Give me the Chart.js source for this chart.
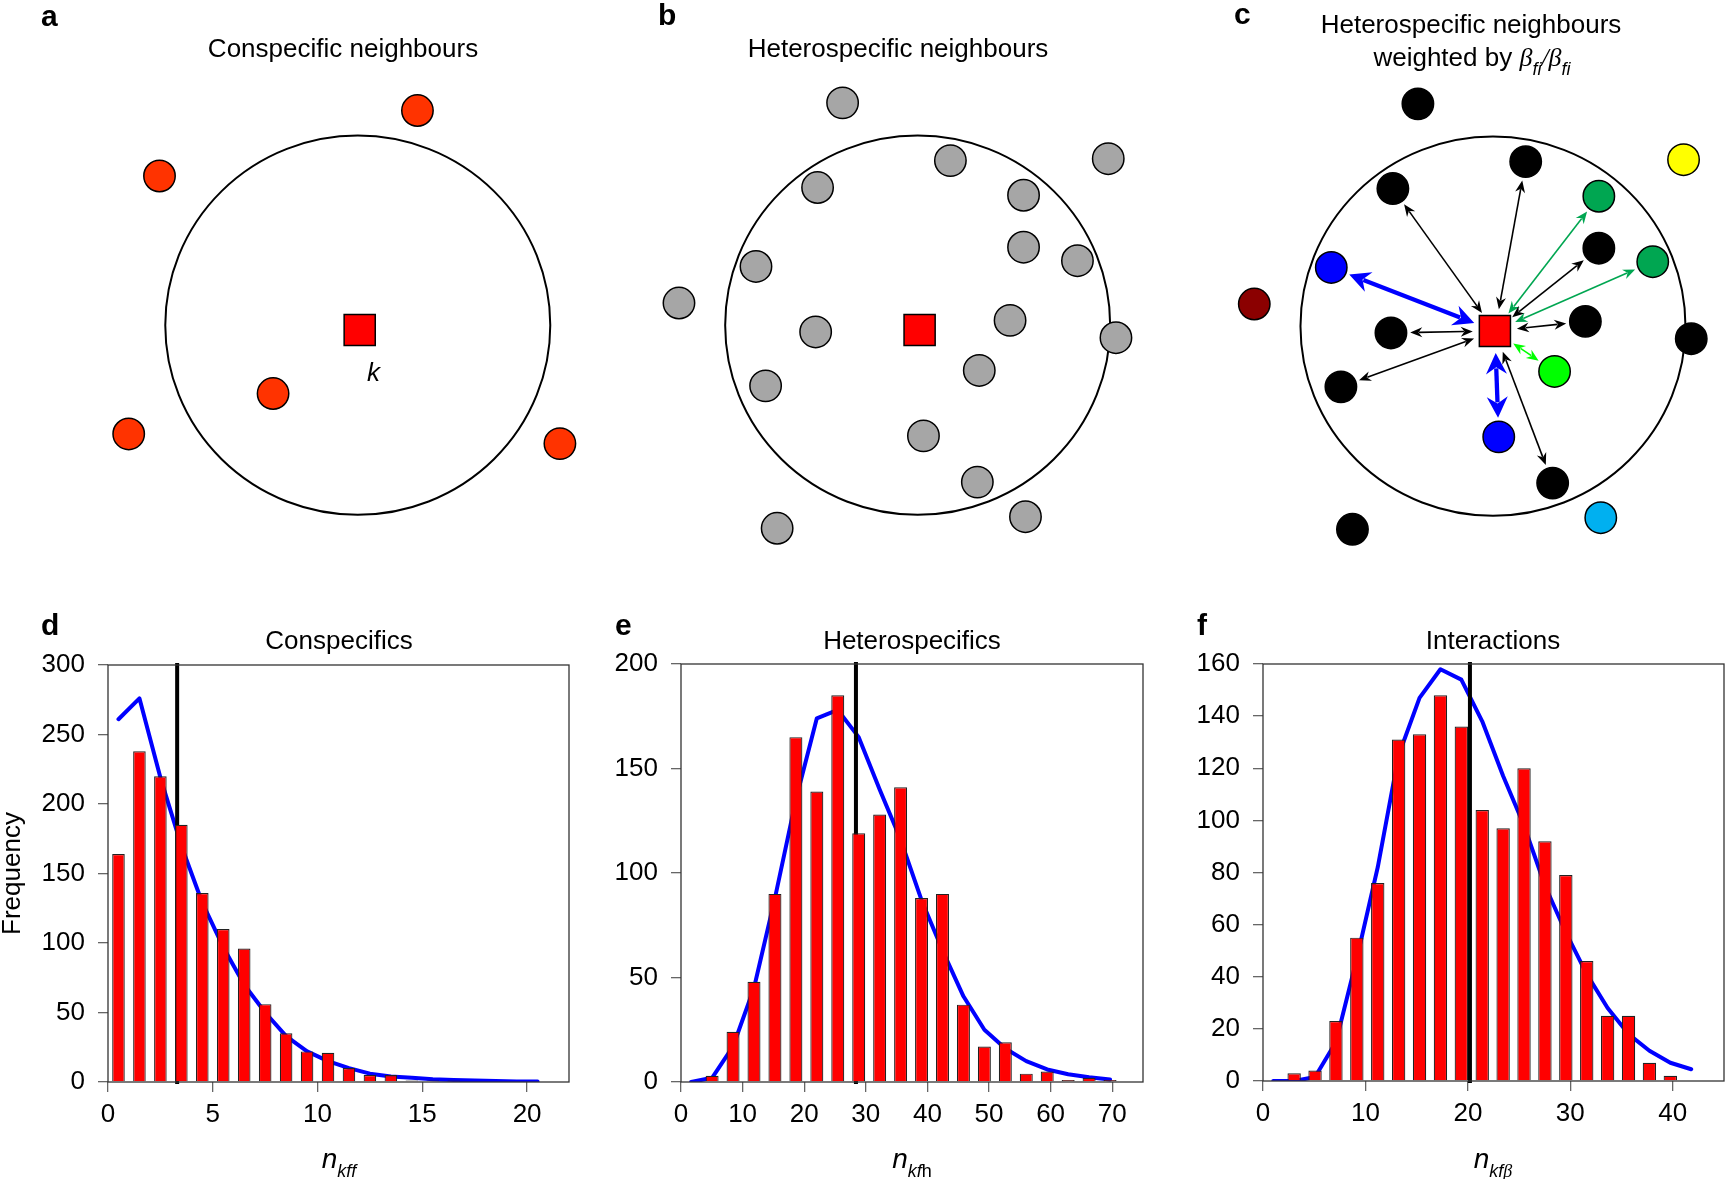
<!DOCTYPE html>
<html lang="en">
<head>
<meta charset="UTF-8">
<title>Neighbourhood crowding</title>
<script src="https://cdn.jsdelivr.net/npm/chart.js"></script>
<style>
  body { margin: 0; background: #fff; width: 1725px; height: 1179px; position: relative; overflow: hidden;
         font-family: "Liberation Sans", Arial, Helvetica, sans-serif; color: #000;
         font-variant-ligatures: none; }
  canvas { position: absolute; }
  .t { position: absolute; white-space: nowrap; line-height: 1; font-size: 26px; }
  .c { transform: translateX(-50%); }
  .lab { font-weight: bold; font-size: 30px; font-family: "Liberation Sans Narrow", "Liberation Sans", sans-serif; }
  .ax { font-size: 28px; }
  .ax i, .it { font-style: italic; }
  sub { font-size: 18px; vertical-align: -9px; line-height: 0; }
  .greek { font-family: "Liberation Serif", "DejaVu Serif", serif; font-style: italic; }
</style>
</head>
<body>
<canvas id="panelA" width="600" height="560" style="left:0;top:0"></canvas>
<canvas id="panelB" width="575" height="560" style="left:575px;top:0"></canvas>
<canvas id="panelC" width="575" height="560" style="left:1150px;top:0"></canvas>
<canvas id="panelD" width="600" height="579" style="left:0;top:600px"></canvas>
<canvas id="panelE" width="580" height="579" style="left:580px;top:600px"></canvas>
<canvas id="panelF" width="565" height="579" style="left:1160px;top:600px"></canvas>

<div class="t lab" style="left:41px;top:1px">a</div>
<div class="t lab" style="left:658px;top:0">b</div>
<div class="t lab" style="left:1234px;top:-1px">c</div>
<div class="t lab" style="left:41px;top:610px">d</div>
<div class="t lab" style="left:615px;top:610px">e</div>
<div class="t lab" style="left:1197px;top:610px">f</div>

<div class="t c" style="left:343px;top:35px">Conspecific neighbours</div>
<div class="t c" style="left:898px;top:35px">Heterospecific neighbours</div>
<div class="t c" style="left:1471px;top:11px">Heterospecific neighbours</div>
<div class="t c" style="left:1472px;top:44px">weighted by <span class="greek">β</span><sub><i>fi</i></sub><span class="greek">/β</span><sub><i>fi</i></sub></div>
<div class="t it" style="left:367px;top:359px">k</div>

<div class="t c" style="left:339px;top:627px">Conspecifics</div>
<div class="t c" style="left:912px;top:627px">Heterospecifics</div>
<div class="t c" style="left:1493px;top:627px">Interactions</div>

<div class="t c ax" style="left:339px;top:1145px"><i>n</i><sub><i>kff</i></sub></div>
<div class="t c ax" style="left:912px;top:1145px"><i>n</i><sub><i>kf</i>h</sub></div>
<div class="t c ax" style="left:1493px;top:1145px"><i>n</i><sub><i>kf</i><span class="greek">β</span></sub></div>

<script>
// ---------- panels a-c: neighbours of focal tree k, in units of the neighbourhood radius ----------
const conspecificXY = [[0.30, 1.14], [-1.04, 0.80], [-0.45, -0.33], [-1.20, -0.54], [1.04, -0.59]];
const heterospecificXY = [
  [-0.40, 1.18], [0.16, 0.88], [0.98, 0.89], [-0.53, 0.74], [0.54, 0.70], [0.54, 0.43],
  [0.82, 0.36], [-0.85, 0.33], [-1.25, 0.14], [-0.54, -0.01], [0.47, 0.05], [1.02, -0.04],
  [-0.80, -0.29], [0.31, -0.21], [0.02, -0.55], [0.30, -0.79], [0.55, -0.97], [-0.74, -1.03]
];
// species of each heterospecific neighbour (panel c)
const heterospecificSpecies = ['A', 'A', 'Y', 'A', 'G', 'A', 'G', 'B', 'R', 'A', 'A', 'A', 'A', 'L', 'B', 'A', 'C', 'A'];
// neighbours inside the radius linked to k by an interaction arrow
const interactingNeighbours = [3, 1, 4, 5, 6, 10, 13, 7, 9, 12, 14, 15];
const neighbourhood = { x: -0.01, y: 0.025, rx: 1.0, ry: 0.985 };

// ---------- panels d-f: histograms ----------
const consBins = [0.5, 1.5, 2.5, 3.5, 4.5, 5.5, 6.5, 7.5, 8.5, 9.5, 10.5, 11.5, 12.5, 13.5, 14.5, 15.5, 16.5, 17.5, 18.5, 19.5, 20.5];
const consObserved = [164, 238, 220, 185, 136, 110, 96, 56, 35, 22, 21, 10, 5, 5, 1, 1, 1, null, null, null, null];
const consExpected = [261, 276, 219, 170, 129, 97, 70, 50, 33, 22, 15, 10, 6, 4, 3, 2, 1.5, 1, 0.7, 0.4, 0.3];
const consMean = 3.3;
const consXTicks = [0, 5, 10, 15, 20];
const consYTicks = [0, 50, 100, 150, 200, 250, 300];

const heteroBins = [1.65, 5.05, 8.45, 11.85, 15.25, 18.65, 22.05, 25.45, 28.85, 32.25, 35.65, 39.05, 42.45, 45.85, 49.25, 52.65, 56.05, 59.45, 62.85, 66.25, 69.65];
const heteroObserved = [null, 3, 24, 48, 90, 165, 139, 185, 119, 128, 141, 88, 90, 37, 17, 19, 4, 5, 1, 2, 1];
const heteroExpected = [0, 2, 17, 45, 88, 135, 174, 178, 165, 140, 116, 87, 63, 41, 25, 16, 10, 6, 3.7, 2.3, 1.2];
const heteroMean = 28.4;
const heteroXTicks = [0, 10, 20, 30, 40, 50, 60, 70];
const heteroYTicks = [0, 50, 100, 150, 200];

const interBins = [1.00, 3.04, 5.08, 7.12, 9.16, 11.20, 13.24, 15.28, 17.32, 19.36, 21.40, 23.44, 25.48, 27.52, 29.56, 31.60, 33.64, 35.68, 37.72, 39.76, 41.80];
const interObserved = [null, 3, 4, 23, 55, 76, 131, 133, 148, 136, 104, 97, 120, 92, 79, 46, 25, 25, 7, 2, null];
const interExpected = [0, 0, 1.5, 15, 47, 82, 125, 147, 158, 154, 138, 117, 98, 75, 57, 41, 28, 18, 11.6, 7, 4.5];
const interMean = 20.2;
const interXTicks = [0, 10, 20, 30, 40];
const interYTicks = [0, 20, 40, 60, 80, 100, 120, 140, 160];

// ---------- styles ----------
Chart.defaults.font.family = '"Liberation Sans", Arial, Helvetica, sans-serif';
Chart.defaults.color = '#000';

const speciesColour = { A: '#000000', Y: '#ffff00', G: '#00a651', B: '#0000ff', R: '#8b0000', L: '#00ff00', C: '#00b0f0' };
const PX_PER_RADIUS = 192.5;

const ringPlugin = {
  id: 'ring',
  beforeDatasetsDraw(chart) {
    const { ctx, scales: { x, y } } = chart;
    const cx = x.getPixelForValue(neighbourhood.x), cy = y.getPixelForValue(neighbourhood.y);
    const rx = Math.abs(x.getPixelForValue(neighbourhood.x + neighbourhood.rx) - cx);
    const ry = Math.abs(y.getPixelForValue(neighbourhood.y + neighbourhood.ry) - cy);
    ctx.save();
    ctx.beginPath();
    ctx.ellipse(cx, cy, rx, ry, 0, 0, Math.PI * 2);
    ctx.lineWidth = 2;
    ctx.strokeStyle = '#000';
    ctx.stroke();
    ctx.restore();
  }
};

function arrowHead(ctx, tx, ty, ux, uy, len, wid) {
  const nx = -uy, ny = ux;
  ctx.beginPath();
  ctx.moveTo(tx, ty);
  ctx.lineTo(tx - ux * len * 1.1 + nx * wid / 2, ty - uy * len * 1.1 + ny * wid / 2);
  ctx.lineTo(tx - ux * len * 0.75, ty - uy * len * 0.75);
  ctx.lineTo(tx - ux * len * 1.1 - nx * wid / 2, ty - uy * len * 1.1 - ny * wid / 2);
  ctx.closePath();
  ctx.fill();
}

const arrowPlugin = {
  id: 'arrows',
  beforeDatasetsDraw(chart) {
    const { ctx, scales: { x, y } } = chart;
    const unit = x.getPixelForValue(1) - x.getPixelForValue(0);
    const x0 = x.getPixelForValue(0), y0 = y.getPixelForValue(0);
    ctx.save();
    interactingNeighbours.forEach(i => {
      const sp = heterospecificSpecies[i];
      const strong = sp === 'B';
      const x1 = x.getPixelForValue(heterospecificXY[i][0]), y1 = y.getPixelForValue(heterospecificXY[i][1]);
      const d = Math.hypot(x1 - x0, y1 - y0);
      const ux = (x1 - x0) / d, uy = (y1 - y0) / d;
      const g0 = 0.115 * unit, g1 = 0.1 * unit;
      const sx = x0 + ux * g0, sy = y0 + uy * g0;
      const ex = x1 - ux * g1, ey = y1 - uy * g1;
      const len = strong ? 19 : 11, wid = strong ? 21 : 10;
      ctx.strokeStyle = ctx.fillStyle = speciesColour[sp];
      ctx.lineWidth = strong ? 4.3 : 1.6;
      ctx.beginPath();
      ctx.moveTo(sx + ux * len * 0.8, sy + uy * len * 0.8);
      ctx.lineTo(ex - ux * len * 0.8, ey - uy * len * 0.8);
      ctx.stroke();
      arrowHead(ctx, ex, ey, ux, uy, len, wid);
      arrowHead(ctx, sx, sy, -ux, -uy, len, wid);
    });
    ctx.restore();
  }
};

function focalTree() {
  return { data: [{ x: 0, y: 0 }], pointStyle: 'rect', pointRadius: 22, backgroundColor: '#ff0000',
           borderColor: '#000', borderWidth: 1.5, clip: false };
}

function neighbourChart(id, focusPx, datasets, plugins) {
  const cv = document.getElementById(id);
  return new Chart(cv, {
    type: 'scatter',
    data: { datasets },
    options: {
      responsive: false, animation: false, events: [],
      layout: { padding: 0, autoPadding: false },
      plugins: { legend: { display: false }, tooltip: { enabled: false } },
      scales: {
        x: { type: 'linear', display: false, min: -focusPx[0] / PX_PER_RADIUS, max: (cv.width - focusPx[0]) / PX_PER_RADIUS },
        y: { type: 'linear', display: false, min: -(cv.height - focusPx[1]) / PX_PER_RADIUS, max: focusPx[1] / PX_PER_RADIUS }
      }
    },
    plugins
  });
}

const toPoints = xy => xy.map(([x, y]) => ({ x, y }));
const neighbourStyle = { pointRadius: 15.7, borderColor: '#000', borderWidth: 1.5, clip: false };

neighbourChart('panelA', [359.7, 330], [
  focalTree(),
  { ...neighbourStyle, data: toPoints(conspecificXY), backgroundColor: '#ff3300' }
], [ringPlugin]);

neighbourChart('panelB', [344.6, 330], [
  focalTree(),
  { ...neighbourStyle, data: toPoints(heterospecificXY), backgroundColor: '#a6a6a6' }
], [ringPlugin]);

neighbourChart('panelC', [344.9, 331], [
  focalTree(),
  { ...neighbourStyle, data: toPoints(heterospecificXY),
    backgroundColor: heterospecificSpecies.map(s => speciesColour[s]) }
], [ringPlugin, arrowPlugin]);

// ---------- histograms ----------
const framePlugin = {
  id: 'frame',
  afterDatasetsDraw(chart) {
    const { ctx, chartArea: a } = chart;
    ctx.save();
    ctx.strokeStyle = '#333';
    ctx.lineWidth = 1.3;
    ctx.strokeRect(a.left, a.top, a.right - a.left, a.bottom - a.top);
    ctx.restore();
  }
};

function histogram(id, h) {
  const tickGrid = { display: true, drawOnChartArea: false, drawTicks: true, tickLength: 10, color: '#666', lineWidth: 1.3, offset: false };
  return new Chart(document.getElementById(id), {
    type: 'bar',
    data: {
      datasets: [
        { type: 'bar', order: 0,
          data: h.observed.map((y, i) => ({ x: h.bins[i], y })).filter(p => p.y !== null),
          backgroundColor: '#ff0000', borderColor: '#222', borderWidth: 1.2,
          barPercentage: h.barPct, categoryPercentage: 1 },
        { type: 'line', order: 1, data: [{ x: h.mean, y: 0 }, { x: h.mean, y: h.yMax }],
          borderColor: '#000', borderWidth: 4, borderCapStyle: 'square', pointRadius: 0, clip: false },
        { type: 'line', order: 2, data: h.expected.map((y, i) => ({ x: h.bins[i], y })),
          borderColor: '#0000ff', borderWidth: 4, borderJoinStyle: 'round', borderCapStyle: 'round',
          pointRadius: 0, tension: 0 }
      ]
    },
    options: {
      responsive: false, animation: false, events: [],
      layout: { padding: h.pad, autoPadding: false },
      plugins: { legend: { display: false }, tooltip: { enabled: false } },
      scales: {
        x: { type: 'linear', min: 0, max: h.xMax, offset: false,
             afterBuildTicks: s => { s.ticks = h.xTicks.map(value => ({ value })); },
             afterFit: s => { s.height = 60; },
             grid: tickGrid, border: { display: false },
             ticks: { padding: 7, font: { size: 26 }, color: '#000', maxRotation: 0, autoSkip: false } },
        y: { type: 'linear', min: 0, max: h.yMax,
             afterBuildTicks: s => { s.ticks = h.yTicks.map(value => ({ value })); },
             afterFit: s => { s.width = h.yWidth; },
             grid: tickGrid, border: { display: false },
             ticks: { padding: 13, font: { size: 26 }, color: '#000', autoSkip: false },
             title: { display: !!h.yTitle, text: h.yTitle || '', font: { size: 26, lineHeight: 1 }, color: '#000',
                      padding: { top: 0, bottom: 0 } } }
      }
    },
    plugins: [framePlugin]
  });
}

histogram('panelD', {
  bins: consBins, observed: consObserved, expected: consExpected, mean: consMean,
  xTicks: consXTicks, yTicks: consYTicks, xMax: 22, yMax: 300, barPct: 0.6,
  yWidth: 108, pad: { top: 65, right: 31, bottom: 37, left: 0 }, yTitle: 'Frequency'
});
histogram('panelE', {
  bins: heteroBins, observed: heteroObserved, expected: heteroExpected, mean: heteroMean,
  xTicks: heteroXTicks, yTicks: heteroYTicks, xMax: 75, yMax: 200, barPct: 0.62,
  yWidth: 101, pad: { top: 64, right: 17, bottom: 37, left: 0 }
});
histogram('panelF', {
  bins: interBins, observed: interObserved, expected: interExpected, mean: interMean,
  xTicks: interXTicks, yTicks: interYTicks, xMax: 45, yMax: 160, barPct: 0.64,
  yWidth: 103, pad: { top: 64, right: 1, bottom: 38, left: 0 }
});
</script>
</body>
</html>
